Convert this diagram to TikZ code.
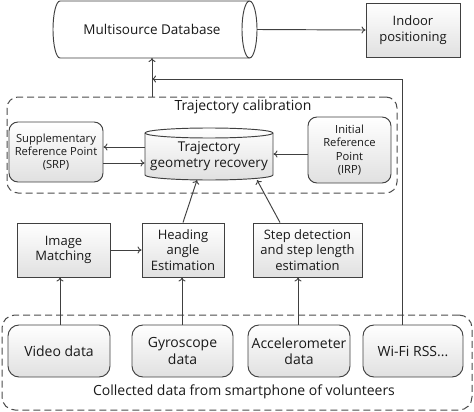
\documentclass[tikz,border=0pt]{standalone}
\usepackage{fontspec}
\setmainfont{Open Sans}
\usetikzlibrary{arrows.meta,shapes.geometric,positioning,calc}
\begin{document}
\begin{tikzpicture}[x=1pt,y=-1pt,
  line width=0.95pt,
  every node/.style={font=\fontsize{13}{15.5}\selectfont, align=center, inner sep=0pt, text=black!90},
  box/.style={draw=black!75, top color=white, bottom color=black!12, minimum height=54pt},
  rbox/.style={box, rounded corners=9pt},
  arr/.style={draw=black!75, -{To[length=4pt,width=7pt]}},
  dashbox/.style={draw=black!70, dashed, dash pattern=on 7pt off 4pt, rounded corners=11pt, line width=1pt}]
\useasboundingbox (0,0) rectangle (474,412);

% Multisource database (horizontal cylinder)
\draw[black!75, fill=white] (60,1) -- (249.5,1) arc[start angle=90, end angle=-90, x radius=7.5pt, y radius=28.5pt] -- (60,58)
  arc[start angle=-90, end angle=-270, x radius=7pt, y radius=28.5pt] -- cycle;
\draw[black!75] (249.5,1) arc[start angle=90, end angle=270, x radius=7.5pt, y radius=28.5pt];
\node (db) at (152,29.5) [minimum width=198pt, minimum height=57pt, font=\fontsize{13.5}{16}\selectfont] {Multisource Database};
\coordinate (dbr) at (257,29.5);
\coordinate (dbb) at (152,58);

\node (indoor) at (413,30) [box, minimum width=94pt] {Indoor\\positioning};
\draw[arr] (dbr) -- (indoor.west);

% Trajectory calibration group
\node (cal) at (202,145) [dashbox, minimum width=390pt, minimum height=96pt] {};
\node (caltitle) at (243,107) [font=\fontsize{14}{17}\selectfont] {Trajectory calibration};

\node (srp) at (56,152) [rbox, minimum width=94pt, minimum height=60pt, font=\fontsize{11.2}{13.3}\selectfont] {Supplementary\\Reference Point\\(SRP)};
\node (irp) at (349.5,150) [rbox, minimum width=83pt, minimum height=66pt, font=\fontsize{11.2}{13.3}\selectfont] {Initial\\Reference\\Point\\(IRP)};

% Trajectory geometry recovery (vertical cylinder)
\draw[black!75, top color=white, bottom color=black!12] (145,133) -- (145,175) arc[start angle=180, end angle=360, x radius=64pt, y radius=5pt] -- (273,133)
  arc[start angle=0, end angle=180, x radius=64pt, y radius=5pt] -- cycle;
\draw[black!75] (145,133) arc[start angle=180, end angle=360, x radius=64pt, y radius=5pt];
\node (tgr) at (209,156) [minimum width=128pt, minimum height=48pt, font=\fontsize{13.5}{16.5}\selectfont] {Trajectory\\geometry recovery};

\draw[arr] (tgr.west |- 0,147) -- (srp.east |- 0,147);
\draw[arr] (srp.east |- 0,163) -- (tgr.west |- 0,163);
\draw[arr] (irp.west |- 0,154) -- (tgr.east |- 0,154);

% middle row
\node (img) at (63.5,250) [box, minimum width=93pt] {Image\\Matching};
\node (head) at (183,250) [box, minimum width=82pt] {Heading\\angle\\Estimation};
\node (step) at (307.5,250) [box, minimum width=109pt] {Step detection\\and step length\\estimation};
\draw[arr] (img.east) -- (head.west);
\coordinate (tb1) at (197,180);
\coordinate (tb2) at (257,180);
\draw[arr] (head.north) -- (tb1);
\draw[arr] (step.north -| 280,0) -- (tb2);

% bottom group
\node (coll) at (237,362.5) [dashbox, minimum width=470pt, minimum height=95pt, rounded corners=13pt] {};
\node (colltext) at (244,392) [font=\fontsize{14}{16}\selectfont] {Collected data from smartphone of volunteers};
\node (video) at (59,351) [rbox, minimum width=102pt, minimum height=52pt, rounded corners=11pt, font=\fontsize{14}{16.5}\selectfont] {Video data};
\node (gyro) at (182.5,351) [rbox, minimum width=101pt, minimum height=52pt, rounded corners=11pt, font=\fontsize{14}{16.5}\selectfont] {Gyroscope\\data};
\node (accel) at (299,351) [rbox, minimum width=102pt, minimum height=52pt, rounded corners=11pt, font=\fontsize{14}{16.5}\selectfont] {Accelerometer\\data};
\node (wifi) at (413,351) [rbox, minimum width=100pt, minimum height=52pt, rounded corners=11pt, font=\fontsize{14}{16.5}\selectfont] {Wi-Fi RSS...};

\draw[arr] (video.north -| 60,0) -- (img.south -| 60,0);
\draw[arr] (gyro.north -| 182,0) -- (head.south -| 182,0);
\draw[arr] (accel.north -| 298,0) -- (step.south -| 298,0);

\coordinate (wj) at (402,79);
\coordinate (cj) at (152,79);
\draw[arr] (wifi.north -| wj) -- (wj) -- (cj);
\draw[arr] (cal.north -| dbb) -- (dbb);
\end{tikzpicture}
\end{document}
